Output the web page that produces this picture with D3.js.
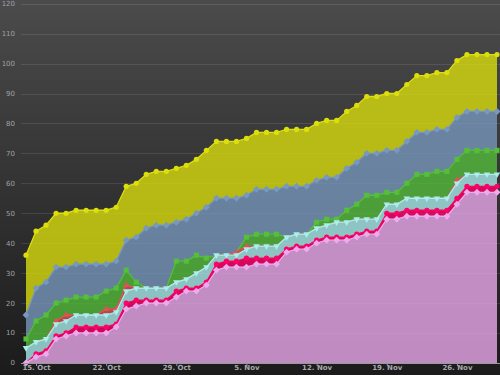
<!DOCTYPE html>
<html>
<head>
<meta charset="utf-8">
<script src="https://d3js.org/d3.v7.min.js"></script>
<style>
  body { margin: 0; background: #1c1c1c; }
  svg { display: block; font-family: "DejaVu Sans", Verdana, sans-serif; }
</style>
</head>
<body>
<div id="vis"></div>
<script>
// one point per day, 14 Oct .. 30 Nov
const dates = d3.timeDay.range(new Date(2012, 9, 14), new Date(2012, 11, 1));

// series values (per series, not cumulative); stack order bottom -> top
const pink    = [0,2,3,8,9,10,10,10,10,12, 18,19,20,20,20,22,24,24,26,31, 32,32,32,33,33,33,37,38,38,40, 41,41,41,42,43,43,48,48,49,49, 49,49,49,53,57,57,57,57];
const crimson = [0,1,1,1,1,2,2,2,2,1, 2,2,1,1,1,2,1,1,1,2, 2,2,3,2,2,2,1,1,1,1, 1,1,1,1,1,1,2,2,2,2, 2,2,2,2,2,2,2,2];
const teal    = [5,4,4,4,4,4,4,4,4,4, 4,4,4,4,4,3,3,5,5,3, 2,2,3,4,4,4,4,4,4,4, 4,5,5,5,4,4,3,3,4,4, 4,4,4,5,4,4,4,4];
const red     = [0,0,0,1,2,0,0,0,2,1, 2,0,0,0,0,0,0,0,0,0, 0,1,1,0,0,0,0,0,0,0, 0,0,0,0,0,0,0,0,0,0, 0,0,0,1,0,0,0,0];
const green   = [3,7,8,6,5,6,6,6,6,7, 5,2,0,0,0,7,6,6,3,0, 0,0,3,4,4,4,0,0,0,2, 2,1,4,5,8,8,4,4,5,8, 8,9,9,7,8,8,8,8];
const blue    = [8,11,11,12,11,11,11,11,9,9, 10,15,20,21,21,13,14,14,17,19, 19,18,14,15,15,15,17,16,16,14, 14,14,14,14,14,14,14,14,14,14, 14,14,14,14,13,13,13,13];
const yellow  = [20,19,19,18,18,18,18,18,18,18, 18,18,18,18,18,18,18,18,19,19, 19,19,19,19,19,19,19,19,19,19, 19,19,19,19,19,19,19,19,19,19, 19,19,19,19,19,19,19,19];

const yTicks = [0,10,20,30,40,50,60,70,80,90,100,110,120];

const series = [
  {key: 'pink',    values: pink,    color: '#eeaaee', symbol: 'diamond'},
  {key: 'crimson', values: crimson, color: '#ff0066', symbol: 'circle'},
  {key: 'teal',    values: teal,    color: '#aaeeee', symbol: 'triangle-down'},
  {key: 'red',     values: red,     color: '#DF5353', symbol: 'triangle'},
  {key: 'green',   values: green,   color: '#55BF3B', symbol: 'square'},
  {key: 'blue',    values: blue,    color: '#7798BF', symbol: 'diamond'},
  {key: 'yellow',  values: yellow,  color: '#DDDF0D', symbol: 'circle'}
];

const W = 500, H = 375;
const svg = d3.select('#vis').append('svg').attr('width', W).attr('height', H);

const defs = svg.append('defs');
const grad = defs.append('linearGradient').attr('id', 'bg')
  .attr('x1', 0).attr('y1', 0).attr('x2', 0).attr('y2', 1);
grad.append('stop').attr('offset', 0).attr('stop-color', '#4b4b4b');
grad.append('stop').attr('offset', 1).attr('stop-color', '#1b1b1b');
svg.append('rect').attr('width', W).attr('height', H).attr('fill', 'url(#bg)');

const x = d3.scaleTime().domain([dates[0], dates[dates.length - 1]]).range([26, 497]);
const y = d3.scaleLinear().domain([0, 120]).range([362.9, 3.7]);

// grid + y labels
svg.append('g').selectAll('line').data(yTicks).join('line')
  .attr('x1', 21).attr('x2', W)
  .attr('y1', d => Math.round(y(d)) + 0.5).attr('y2', d => Math.round(y(d)) + 0.5)
  .attr('stroke', 'rgba(255,255,255,0.1)');
svg.append('g').selectAll('text').data(yTicks).join('text')
  .attr('x', 15).attr('y', d => y(d) + 2.5)
  .attr('text-anchor', 'end')
  .attr('font-size', 7).attr('fill', '#a0a0a8')
  .text(d => d);

// stack
const table = dates.map((d, i) => {
  const row = {date: d};
  series.forEach(s => row[s.key] = s.values[i]);
  return row;
});
const stacked = d3.stack().keys(series.map(s => s.key))(table);

const area = d3.area().x(d => x(d.data.date)).y0(d => y(d[0])).y1(d => y(d[1]));
const line = d3.line().x(d => x(d.data.date)).y(d => y(d[1]));

const symbols = {
  'circle': d3.symbol(d3.symbolCircle, Math.PI * 2.6 * 2.6),
  'square': d3.symbol(d3.symbolSquare, 26),
  'diamond': d3.symbol(d3.symbolDiamond2 || d3.symbolDiamond, 30),
  'triangle': d3.symbol(d3.symbolTriangle, 18),
  'triangle-down': d3.symbol(d3.symbolTriangle, 18)
};

// draw top series first so the bottom ones sit above (as in the original)
const order = series.map((s, i) => i).reverse();
order.forEach(i => {
  const s = series[i], layer = stacked[i];
  const g = svg.append('g');
  g.append('path').attr('d', area(layer))
    .attr('fill', s.color).attr('fill-opacity', 0.78);
  g.append('path').attr('d', line(layer))
    .attr('fill', 'none').attr('stroke', s.color).attr('stroke-width', 1.3);
  g.selectAll('path.m').data(layer.filter((d, j) => s.values[j] > 0 || s.key === 'pink'))
    .join('path').attr('class', 'm')
    .attr('d', symbols[s.symbol]())
    .attr('transform', d => `translate(${x(d.data.date)},${y(d[1])})` + (s.symbol === 'triangle-down' ? ' rotate(180)' : ''))
    .attr('fill', s.color);
});

// x axis
const xAxis = d3.axisBottom(x)
  .ticks(d3.timeMonday.every(1))
  .tickFormat(d3.timeFormat('%-d. %b'))
  .tickSize(3).tickSizeOuter(0);
const gx = svg.append('g').attr('transform', 'translate(0,363)').call(xAxis);
gx.select('.domain').attr('stroke', '#999').attr('d', 'M21,0.5H500');
gx.selectAll('.tick line').attr('stroke', '#999');
gx.selectAll('.tick text').attr('fill', '#a8a8b0').attr('font-size', 7)
  .attr('font-weight', 'bold').attr('font-family', '"DejaVu Sans", Verdana, sans-serif')
  .attr('dy', '0.55em').attr('y', 3);
</script>
</body>
</html>
